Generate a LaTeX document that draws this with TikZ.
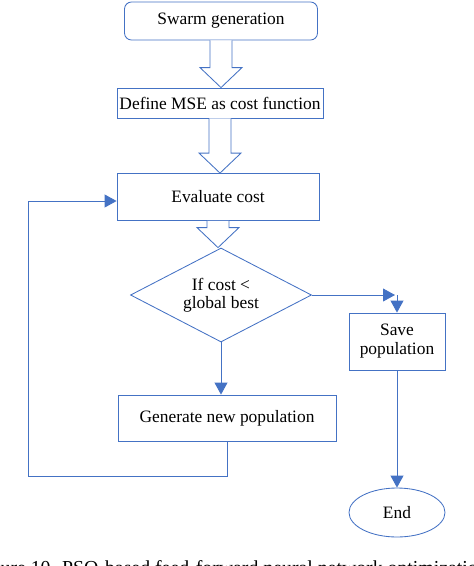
\documentclass[tikz,border=0pt]{standalone}
\usepackage{fontspec}
\setmainfont{Liberation Serif}
\usepackage{tikz}
\usetikzlibrary{arrows.meta, positioning, calc, shapes.geometric}
\definecolor{flowblue}{RGB}{68,114,196}

\tikzset{
  box/.style={draw=flowblue, line width=0.85pt, rectangle, inner sep=2pt, align=center},
  decision/.style={draw=flowblue, line width=0.85pt, diamond, aspect=1.9, inner sep=0pt, align=center},
  terminal/.style={draw=flowblue, line width=0.85pt, ellipse, inner sep=0pt, align=center},
  arr/.style={draw=flowblue, line width=0.85pt, -{Triangle[length=12pt, width=13pt]}},
  fat/.style={draw=flowblue, line width=0.85pt, fill=white},
}
% hollow block arrow between two stacked nodes
\newcommand{\blockarrow}[2]{%
  \draw[fat] ($(#1.south)+(-11,0)$) -- ($(#1.south |- #2.north)+(-11,-20)$)
    -- ($(#1.south |- #2.north)+(-21,-20)$) -- (#1.south |- #2.north)
    -- ($(#1.south |- #2.north)+(21,-20)$) -- ($(#1.south |- #2.north)+(11,-20)$)
    -- ($(#1.south)+(11,0)$);}

\begin{document}
\begin{tikzpicture}[x=1pt, y=-1pt, font=\fontsize{17.4}{20}\selectfont]
  \useasboundingbox (0,0) rectangle (474,566);

  % nodes
  \node[box, rounded corners=7pt, minimum width=193pt, minimum height=38pt] (swarm) at (221,21) {Swarm generation};
  \node[box, minimum width=206pt, minimum height=30pt] (mse) at (220,103) {Define MSE as cost function};
  \node[box, minimum width=202pt, minimum height=47pt] (eval) at (218,197) {Evaluate cost};
  \node[decision, minimum width=181pt, minimum height=94pt] (cond) at (221,295) {If cost <\\[-2pt]global best};
  \node[box, minimum width=218pt, minimum height=46pt] (newpop) at (227,418) {Generate new population};
  \node[box, minimum width=96pt, minimum height=57pt] (save) at (397,341.5) {Save\\[-1pt]population};
  \node[terminal, minimum width=96pt, minimum height=49pt] (finish) at (397,512.5) {End};
  \coordinate (loop) at (28,476);
  \coordinate (bend) at ($(cond.east -| save.north)+(-2,0)$);

  % block arrows
  \blockarrow{swarm}{mse}
  \blockarrow{mse}{eval}
  \blockarrow{eval}{cond}

  % connectors
  \draw[arr] (cond.east) -- (bend);
  \draw[arr] (save.north |- cond.east) -- (save.north);
  \draw[arr] (cond.south) -- (cond.south |- newpop.north);
  \draw[arr] (save.south) -- (finish.north);
  \draw[arr] (newpop.south) |- (loop) |- ([yshift=-4pt]eval.west);

  % caption, cut by the page edge
  \node[anchor=base west, inner sep=0pt, font=\fontsize{19.8}{24}\selectfont] (caption) at (-26,574) {Figure 10. PSO-based feed-forward neural network optimization};
\end{tikzpicture}
\end{document}
